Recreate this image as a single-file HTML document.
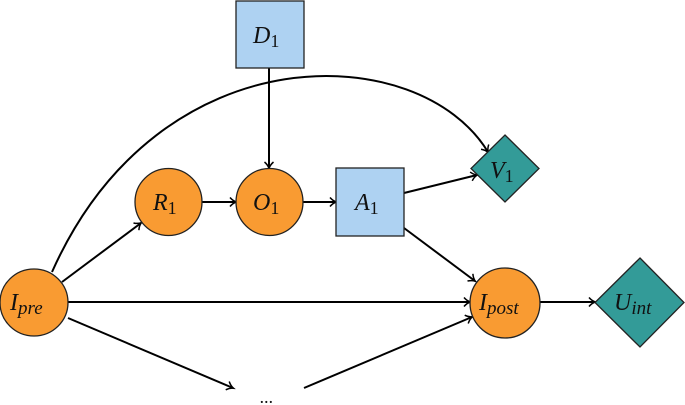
<!DOCTYPE html>
<html><head><meta charset="utf-8"><style>
html,body{margin:0;padding:0;background:#fff;width:685px;height:405px;overflow:hidden}
svg text{font-family:"Liberation Serif",serif;font-style:italic;fill:#111}
</style></head><body>
<svg width="685" height="405" viewBox="0 0 685 405" xmlns="http://www.w3.org/2000/svg">
<defs>
<marker id="a" markerWidth="12" markerHeight="12" refX="9" refY="6" orient="auto" markerUnits="userSpaceOnUse">
<path d="M3,1.5 Q6,5 9.5,6 Q6,7 3,10.5" fill="none" stroke="#000" stroke-width="1.5"/>
</marker>
</defs>
<g stroke="#000" stroke-width="2" fill="none" marker-end="url(#a)">
<path d="M52,272 C160,30 420,40 488,152"/>
<line x1="269" y1="68" x2="269" y2="168"/>
<line x1="202" y1="202" x2="236" y2="202"/>
<line x1="303" y1="202" x2="336" y2="202"/>
<line x1="404" y1="193" x2="477" y2="175"/>
<line x1="404" y1="228" x2="475" y2="281"/>
<line x1="62" y1="282" x2="141" y2="223"/>
<line x1="68" y1="302" x2="470" y2="302"/>
<line x1="540" y1="302" x2="595" y2="302"/>
<line x1="68" y1="318" x2="233" y2="388"/>
<line x1="304" y1="388" x2="472" y2="317"/>
</g>
<g stroke="#222" stroke-width="1.3">
<rect x="236" y="1" width="68" height="67" fill="#aed2f2"/>
<rect x="336" y="168" width="68" height="68" fill="#aed2f2"/>
<ellipse cx="168.5" cy="202" rx="33.5" ry="33.5" fill="#f99b32"/>
<ellipse cx="269.5" cy="202" rx="33.5" ry="33.5" fill="#f99b32"/>
<ellipse cx="34" cy="302.5" rx="34" ry="33.5" fill="#f99b32"/>
<ellipse cx="505" cy="303" rx="35" ry="35" fill="#f99b32"/>
<polygon points="505,135 539,168.5 505,202 471,168.5" fill="#339b98"/>
<polygon points="640,258 684,302.5 640,347 595,302.5" fill="#339b98"/>
</g>
<g font-size="24">
<text x="253" y="43">D<tspan font-style="normal" font-size="18" dy="4">1</tspan></text>
<text x="355" y="210">A<tspan font-style="normal" font-size="18" dy="4">1</tspan></text>
<text x="153" y="210">R<tspan font-style="normal" font-size="18" dy="4">1</tspan></text>
<text x="253" y="210">O<tspan font-style="normal" font-size="18" dy="4">1</tspan></text>
<text x="490" y="178">V<tspan font-style="normal" font-size="18" dy="4">1</tspan></text>
<text x="10" y="310">I<tspan font-size="19" dy="4">pre</tspan></text>
<text x="479" y="310">I<tspan font-size="19" dy="4">post</tspan></text>
<text x="614" y="310">U<tspan font-size="19" dy="4">int</tspan></text>
<text x="260" y="403" font-style="normal" font-size="18">...</text>
</g>
</svg>
</body></html>
